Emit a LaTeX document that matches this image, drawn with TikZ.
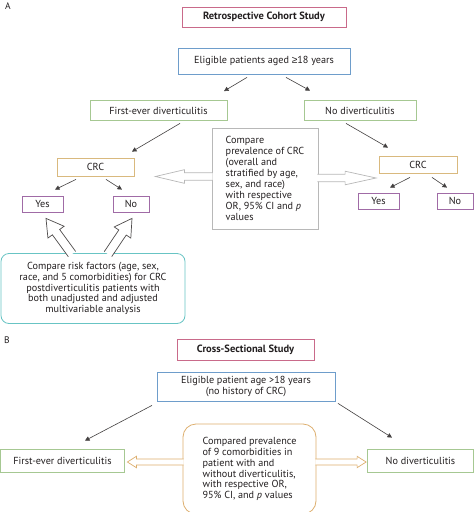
\documentclass[tikz,border=0pt]{standalone}
\usepackage{fontspec}
\setmainfont{PT Sans}
\newfontfamily\symfont{Liberation Sans}
\usetikzlibrary{calc,arrows.meta}
\definecolor{txt}{HTML}{231F20}
\definecolor{pinkc}{HTML}{C96A8A}
\definecolor{bluec}{HTML}{6E9DCB}
\definecolor{greenc}{HTML}{A6C892}
\definecolor{tanc}{HTML}{D9B97E}
\definecolor{purpc}{HTML}{A06BA6}
\definecolor{grayc}{HTML}{B8B8B8}
\definecolor{tealc}{HTML}{68C4C4}
\definecolor{orangec}{HTML}{DDAF6E}
\tikzset{
  box/.style={draw, line width=0.8pt, inner sep=0pt, align=center, text=txt,
    font=\fontsize{10.2}{10.9}\selectfont},
  ttl/.style={font=\fontsize{10.5}{10.9}\selectfont\bfseries},
  arr/.style={draw=txt!85, line width=0.6pt, -{Triangle[length=4.5pt,width=4.5pt]}},
  lbl/.style={text=txt, font=\fontsize{9.5}{11}\selectfont, inner sep=0pt}
}
% #1 colour, #2 tail, #3 tip, #4 shaft half width, #5 head half width, #6 head length
\newcommand\blockarrow[6]{%
  \path[fill=white] let \p1=(#2), \p2=(#3), \n1={atan2(\y2-\y1,\x2-\x1)},
    \n2={veclen(\x2-\x1,\y2-\y1)}, \n3={cos(\n1)}, \n4={sin(\n1)} in
    ({\x1 + #4*\n4}, {\y1 - #4*\n3}) --
    ({\x1 + (\n2-#6)*\n3 + #4*\n4}, {\y1 + (\n2-#6)*\n4 - #4*\n3}) --
    ({\x1 + (\n2-#6)*\n3 + #5*\n4}, {\y1 + (\n2-#6)*\n4 - #5*\n3}) --
    (\x2,\y2) --
    ({\x1 + (\n2-#6)*\n3 - #5*\n4}, {\y1 + (\n2-#6)*\n4 + #5*\n3}) --
    ({\x1 + (\n2-#6)*\n3 - #4*\n4}, {\y1 + (\n2-#6)*\n4 + #4*\n3}) --
    ({\x1 - #4*\n4}, {\y1 + #4*\n3}) -- cycle;
  \draw[#1, line width=0.7pt, line join=miter] let \p1=(#2), \p2=(#3), \n1={atan2(\y2-\y1,\x2-\x1)},
    \n2={veclen(\x2-\x1,\y2-\y1)}, \n3={cos(\n1)}, \n4={sin(\n1)} in
    ({\x1 + #4*\n4}, {\y1 - #4*\n3}) --
    ({\x1 + (\n2-#6)*\n3 + #4*\n4}, {\y1 + (\n2-#6)*\n4 - #4*\n3}) --
    ({\x1 + (\n2-#6)*\n3 + #5*\n4}, {\y1 + (\n2-#6)*\n4 - #5*\n3}) --
    (\x2,\y2) --
    ({\x1 + (\n2-#6)*\n3 - #5*\n4}, {\y1 + (\n2-#6)*\n4 + #5*\n3}) --
    ({\x1 + (\n2-#6)*\n3 - #4*\n4}, {\y1 + (\n2-#6)*\n4 + #4*\n3}) --
    ({\x1 - #4*\n4}, {\y1 + #4*\n3});
}
\begin{document}
\begin{tikzpicture}[x=1pt,y=-1pt]
\useasboundingbox (0,0) rectangle (474,512);
\fill[white] (0,0) rectangle (474,512);

% ---------------- Panel A ----------------
\node[lbl] (labA) at (8,6) {A};
\node[box, ttl, draw=pinkc, minimum width=164pt, minimum height=20pt] (retro) at (264,17) {Retrospective Cohort Study};
\node[box, draw=bluec, minimum width=172pt, minimum height=26pt] (eligA) at (264,61) {Eligible patients aged {\symfont ≥}18 years};
\node[box, draw=greenc, minimum width=137pt, minimum height=20pt] (firstA) at (158.5,110.5) {First-ever diverticulitis};
\node[box, draw=greenc, minimum width=112pt, minimum height=20pt] (noA) at (360,110.5) {No diverticulitis};
\node[box, draw=grayc, minimum width=106pt, minimum height=101pt, align=left] (cmpA) at (265,178.5)
  {Compare\\prevalence of CRC\\(overall and\\stratified by age,\\sex, and race)\\with respective\\OR, 95\% CI and \textit{p}\\values};
\node[box, draw=tanc, minimum width=77pt, minimum height=18pt] (crcL) at (95.5,167) {CRC};
\node[box, draw=tanc, minimum width=78pt, minimum height=17pt] (crcR) at (418,164.5) {CRC};
\node[box, draw=purpc, minimum width=41pt, minimum height=16pt] (yesL) at (42.5,204) {Yes};
\node[box, draw=purpc, minimum width=36pt, minimum height=16pt] (noL) at (131,204) {No};
\node[box, draw=purpc, minimum width=41pt, minimum height=16pt] (yesR) at (378.5,201) {Yes};
\node[box, draw=purpc, minimum width=36pt, minimum height=16pt] (noR) at (455,201) {No};
\node[box, draw=tealc, rounded corners=8pt, minimum width=184pt, minimum height=70pt] (risk) at (93,288.5)
  {Compare risk factors (age, sex,\\race, and 5 comorbidities) for CRC\\postdiverticulitis patients with\\both unadjusted and adjusted\\multivariable analysis};

\draw[arr] ($(eligA.south)+(-17,3)$) -- ($(firstA.north)+(65.5,-9)$);
\draw[arr] ($(eligA.south)+(22,3)$) -- ($(noA.north)+(-50,-9.5)$);
\draw[arr] ($(firstA.south)+(21.5,2.5)$) -- ($(crcL.north)+(36.5,-6)$);
\draw[arr] ($(noA.south)+(-14,2.5)$) -- ($(crcR.north)+(-30,-8)$);
\draw[arr] ($(crcL.south)+(-19.5,3)$) -- ($(yesL.north)+(12.5,-6)$);
\draw[arr] ($(crcL.south)+(10.5,3)$) -- ($(noL.north)+(-9,-6)$);
\draw[arr] ($(crcR.south)+(-8,4)$) -- ($(yesR.north)+(11.5,-5)$);
\draw[arr] ($(crcR.south)+(14,4)$) -- ($(noR.north)+(-8,-5)$);

\blockarrow{grayc}{$(cmpA.west)+(1,-2)$}{$(crcL.east)+(21,9.5)$}{3.7}{6.8}{29}
\blockarrow{grayc}{$(cmpA.east)+(-1,-0.5)$}{$(crcR.west)+(-2.5,13.5)$}{3.7}{6.8}{31}
\blockarrow{txt!80}{$(risk.north)+(-21,1)$}{$(yesL.south)+(3.5,6)$}{4.5}{10}{17}
\blockarrow{txt!80}{$(risk.north)+(15,1)$}{$(noL.south)+(1,6)$}{4.5}{10}{17}

% ---------------- Panel B ----------------
\node[lbl] (labB) at (7,340) {B};
\node[box, ttl, draw=pinkc, minimum width=137pt, minimum height=21pt] (cross) at (245.5,350) {Cross-Sectional Study};
\node[box, draw=bluec, minimum width=178pt, minimum height=29pt] (eligB) at (246,386.5) {Eligible patient age >18 years\\(no history of CRC)};
\node[box, draw=greenc, minimum width=124pt, minimum height=23pt] (firstB) at (62.5,460.5) {First-ever diverticulitis};
\node[box, draw=greenc, minimum width=106pt, minimum height=23pt] (noB) at (420.5,460.5) {No diverticulitis};
\node[box, draw=orangec, rounded corners=13pt, minimum width=133pt, minimum height=90pt, align=left] (cmpB) at (249.5,469)
  {Compared prevalence\\of 9 comorbidities in\\patient with and\\without diverticulitis,\\with respective OR,\\95\% CI, and \textit{p} values};

\draw[arr] ($(eligB.south)+(-94,4)$) -- ($(firstB.north)+(22.5,-8)$);
\draw[arr] ($(eligB.south)+(92,2)$) -- ($(noB.north)+(-28.5,-11)$);

\blockarrow{orangec}{$(cmpB.west)+(1,-7)$}{$(firstB.east)+(2.5,1.5)$}{3}{5.7}{9}
\blockarrow{orangec}{$(cmpB.east)+(-1,-7)$}{$(noB.west)+(-1,1.5)$}{3}{5.7}{9}
\end{tikzpicture}
\end{document}
